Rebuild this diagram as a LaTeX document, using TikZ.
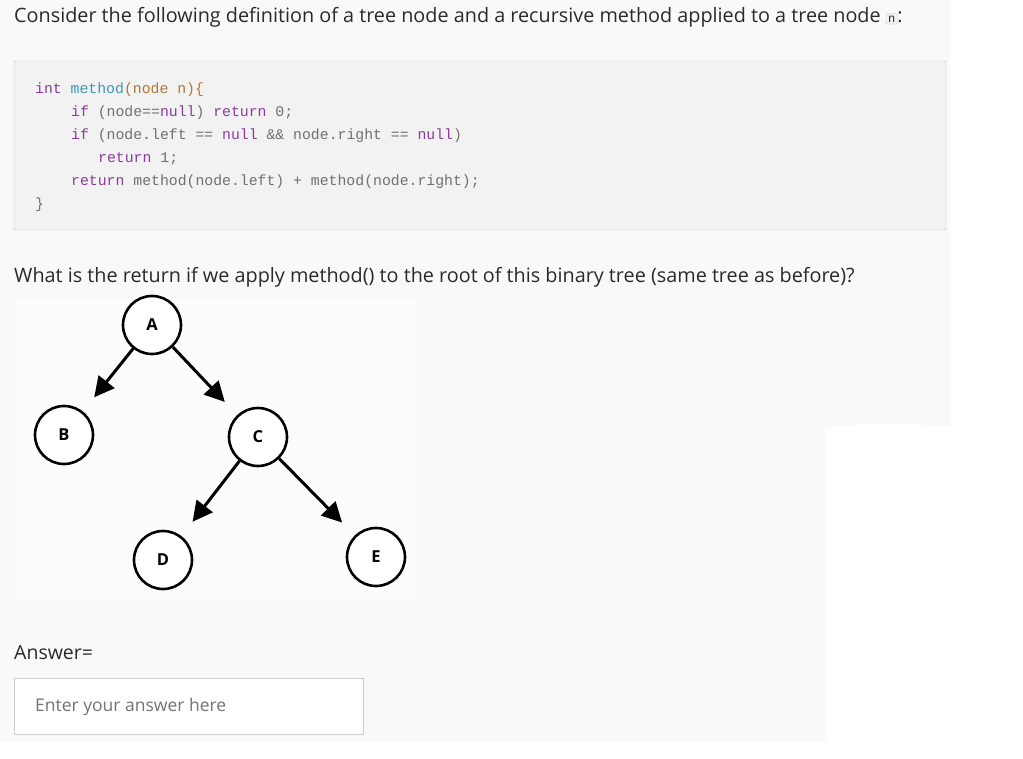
\documentclass[tikz,border=0pt]{standalone}
\usepackage{fontspec}
\setmainfont{Open Sans}
\newfontfamily\codef{Liberation Mono}
\usetikzlibrary{arrows.meta}
\definecolor{kw}{HTML}{8A3C9A}
\definecolor{fn}{HTML}{3A98B0}
\definecolor{ar}{HTML}{B07A30}
\definecolor{pu}{HTML}{707070}
\definecolor{txt}{HTML}{2A2A2A}
\begin{document}
\begin{tikzpicture}[x=1pt,y=-1pt,
  codet/.style={anchor=base west,inner sep=0pt,font=\codef\fontsize{14.8}{16}\selectfont,text=pu},
  tn/.style={circle,draw=black,line width=2.6pt,minimum size=58pt,inner sep=0pt,fill=white,font=\bfseries\fontsize{16.5}{18}\selectfont},
  edge/.style={line width=3pt,-{Triangle[length=20pt,width=20pt]},shorten >=18pt}]
\useasboundingbox (0,0) rectangle (1023,758);
\fill[white] (0,0) rectangle (1023,758);
\fill[black!2.5] (0,0) rectangle (950,742);
\fill[white] (825,428) .. controls (880,422) .. (1023,430) -- (1023,742) -- (825,742) -- cycle;
\node[anchor=base west,inner sep=0pt,text=txt,font=\fontsize{19.8}{22}\selectfont] (t1) at (14,22) {Consider the following definition of a tree node and a recursive method applied to a tree node \tikz[baseline=0pt]\node[draw=black!25,fill=black!5,rounded corners=1pt,inner sep=2pt,anchor=base,font=\codef\fontsize{12}{13}\selectfont]{n};:};
\draw[black!22,fill=black!5,rounded corners=1.5pt] (14,61) rectangle (946,230);
\node[codet] (l1) at (35,93) {\textcolor{kw}{int} \textcolor{fn}{method}\textcolor{ar}{(node n)\{}};
\node[codet] (l2) at (71,116) {\textcolor{kw}{if} (node==\textcolor{kw}{null}) \textcolor{kw}{return} 0;};
\node[codet] (l3) at (71,139) {\textcolor{kw}{if} (node.left == \textcolor{kw}{null} \&\& node.right == \textcolor{kw}{null})};
\node[codet] (l4) at (98,162) {\textcolor{kw}{return} 1;};
\node[codet] (l5) at (71,185) {\textcolor{kw}{return} method(node.left) + method(node.right);};
\node[codet] (l6) at (35,208) {\}};
\node[anchor=base west,inner sep=0pt,text=txt,font=\fontsize{19.8}{22}\selectfont] (q) at (14,282) {What is the return if we apply method() to the root of this binary tree (same tree as before)?};
\fill[black!1] (15,298) rectangle (415,600);
\node[tn] (A) at (152,325) {A};
\node[tn] (B) at (64,435) {B};
\node[tn] (C) at (258,437) {C};
\node[tn] (D) at (163,560) {D};
\node[tn] (E) at (376,557) {E};
\draw[edge] (A) -- (B);
\draw[edge] (A) -- (C);
\draw[edge] (C) -- (D);
\draw[edge] (C) -- (E);
\node[anchor=base west,inner sep=0pt,text=txt,font=\fontsize{19.5}{22}\selectfont] (ans) at (14,659) {Answer=};
\node[draw=black!20,fill=white,minimum width=349pt,minimum height=56pt,anchor=north west,inner sep=0pt] (box) at (14,678) {};
\node[anchor=west,inner sep=0pt,text=black!55,font=\fontsize{17.5}{20}\selectfont] (ph) at (35,707) {Enter your answer here};
\end{tikzpicture}
\end{document}
